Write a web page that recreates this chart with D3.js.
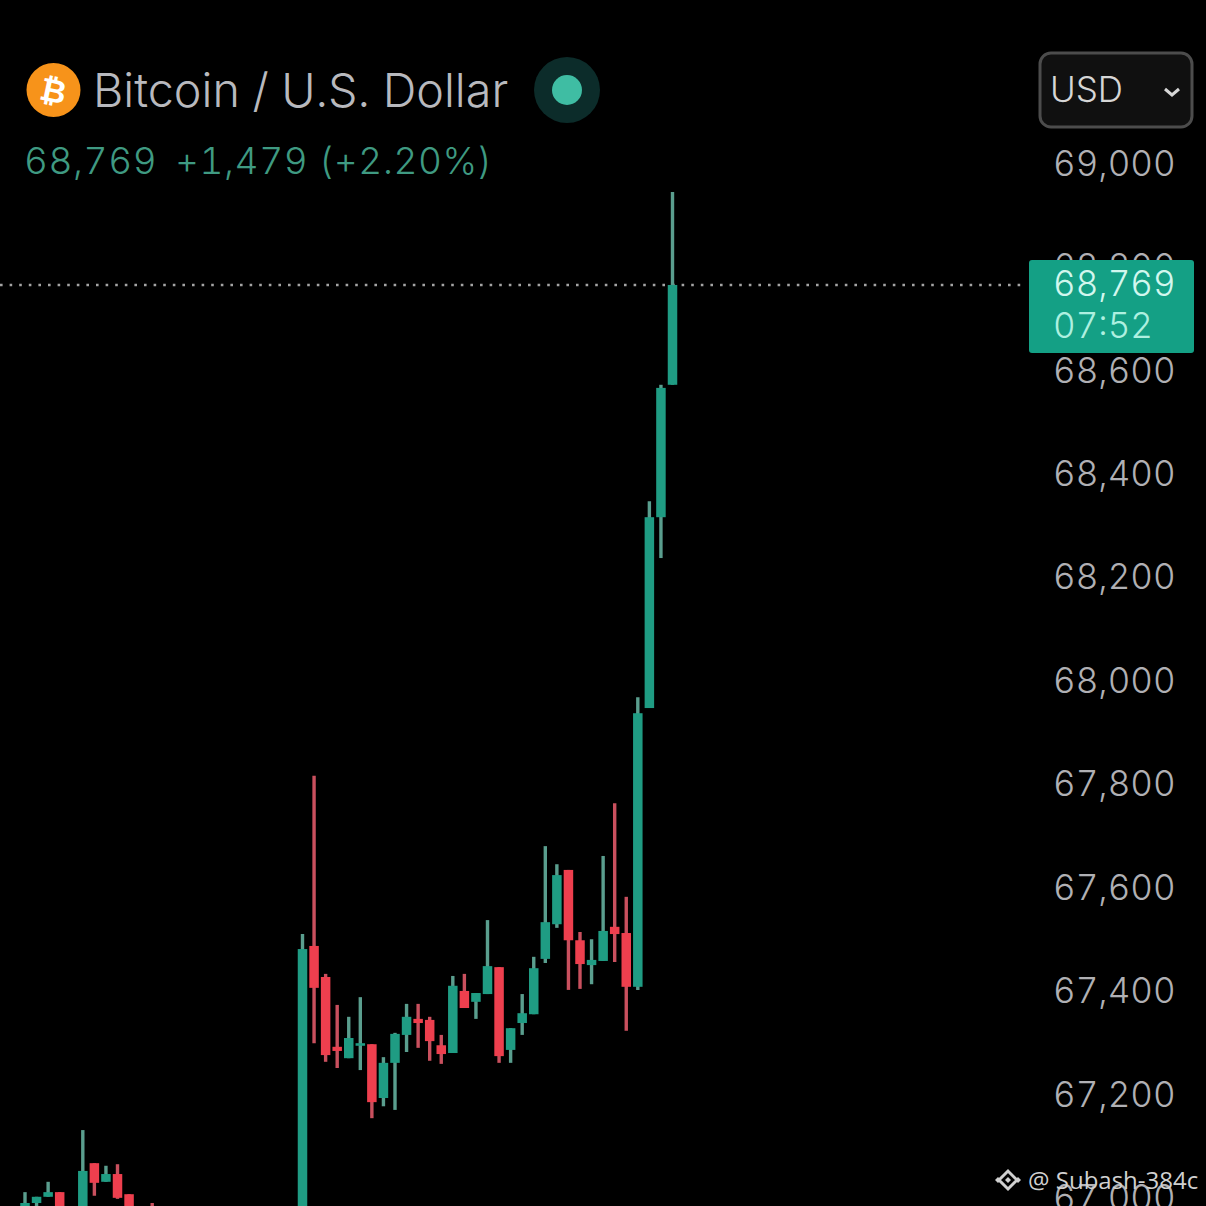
<!DOCTYPE html>
<html>
<head>
<meta charset="utf-8">
<title>Bitcoin / U.S. Dollar</title>
<script src="https://cdn.jsdelivr.net/npm/d3@7"></script>
<style>
  html, body { margin: 0; padding: 0; background: #000; }
  svg { display: block; }
  text { font-family: Inter, Roboto, "Liberation Sans", sans-serif; font-variant-numeric: tabular-nums; font-feature-settings: "tnum" 1; }
</style>
</head>
<body>
<div id="chart"></div>
<script>
const TITLE = 'Bitcoin / U.S. Dollar'
const LAST_PRICE = 68769
const CHANGE_TEXT = '+1,479 (+2.20%)'
const COUNTDOWN = '07:52'
const CURRENCY = 'USD'
const WATERMARK = '@ Subash-384c'
const PRICE_TICKS = [69000, 68800, 68600, 68400, 68200, 68000, 67800, 67600, 67400, 67200, 67000]

// bar position, 0 = first bar of the big move (gaps are bars hidden under the crop)
const bars   = [-24, -23, -22, -21, -19, -18, -17, -16, -15, -13,
  0, 1, 2, 3, 4, 5, 6, 7, 8, 9, 10, 11, 12, 13, 14, 15, 16,
  17, 18, 19, 20, 21, 22, 23, 24, 25, 26, 27, 28, 29, 30, 31, 32]
const opens  = [66975, 66994, 67006, 67015, 66960, 67071, 67035, 67050, 67011, 66970,
  66950, 67491, 67431, 67296, 67274, 67298, 67301, 67197, 67265, 67319, 67350, 67348, 67299, 67284, 67404, 67383, 67398,
  67450, 67290, 67342, 67359, 67466, 67533, 67638, 67502, 67454, 67462, 67528, 67516, 67412, 67951, 68320, 68576]
const highs  = [67015, 67006, 67035, 67015, 67135, 67071, 67066, 67069, 67011, 66994,
  67514, 67820, 67437, 67377, 67354, 67392, 67301, 67276, 67323, 67379, 67379, 67354, 67319, 67433, 67437, 67400, 67541,
  67450, 67332, 67398, 67470, 67684, 67649, 67638, 67518, 67504, 67665, 67767, 67586, 67972, 68351, 68576, 68949]
const lows   = [66960, 66970, 67006, 66930, 66940, 67008, 67035, 67002, 66940, 66930,
  66900, 67303, 67267, 67255, 67274, 67251, 67158, 67181, 67174, 67286, 67294, 67269, 67263, 67284, 67371, 67350, 67398,
  67265, 67265, 67319, 67359, 67458, 67526, 67406, 67408, 67417, 67462, 67460, 67327, 67406, 67951, 68241, 68576]
const closes = [66994, 67006, 67015, 66950, 67056, 67033, 67050, 67004, 66960, 66950,
  67485, 67410, 67280, 67288, 67313, 67303, 67189, 67265, 67321, 67354, 67342, 67307, 67282, 67414, 67371, 67400, 67452,
  67278, 67332, 67361, 67448, 67537, 67628, 67502, 67456, 67464, 67520, 67514, 67412, 67941, 68320, 68570, 68769]

const W = 1206, H = 1206
const UP = '#1f9c83', DOWN = '#ee3f4e', UP_WICK = '#5a9e8e', DOWN_WICK = '#c9505e'
const BODY_W = 9.5, WICK_W = 3.4

const x = d3.scaleLinear().domain([0, 32]).range([302.5, 672.5])
const y = d3.scaleLinear().domain([69000, 67000]).range([165.5, 1199.9])
const fmt = d3.format(',')

const svg = d3.select('#chart').append('svg')
  .attr('width', W).attr('height', H)
  .style('background', '#000')

// price line goes under the candles
svg.append('line')
  .attr('x1', 0).attr('x2', 1022)
  .attr('y1', y(LAST_PRICE)).attr('y2', y(LAST_PRICE))
  .attr('stroke', '#a4a4a4').attr('stroke-width', 2.4)
  .attr('stroke-dasharray', '2.6,7')

// right price axis
const axis = d3.axisRight(y).tickValues(PRICE_TICKS).tickSize(0).tickPadding(0).tickFormat(fmt)
const axisG = svg.append('g')
  .attr('transform', 'translate(1053,0)')
  .call(axis)
axisG.select('.domain').remove()
axisG.selectAll('text')
  .attr('dy', '0.32em')
  .attr('y', -1.5)
  .attr('fill', '#b0b0b4')
  .style('font-family', 'Inter, Roboto, sans-serif')
  .style('font-size', '35px')
  .style('font-weight', 300)
  .style('letter-spacing', '0px')

// candles
const candles = svg.append('g').selectAll('g')
  .data(bars.map((b, i) => ({b, o: opens[i], h: highs[i], l: lows[i], c: closes[i]})))
  .enter().append('g')

candles.append('line')
  .attr('x1', d => x(d.b)).attr('x2', d => x(d.b))
  .attr('y1', d => y(d.h)).attr('y2', d => y(d.l))
  .attr('stroke', d => d.c >= d.o ? UP_WICK : DOWN_WICK)
  .attr('stroke-width', WICK_W)

candles.append('rect')
  .attr('x', d => x(d.b) - BODY_W / 2)
  .attr('width', BODY_W)
  .attr('y', d => y(Math.max(d.o, d.c)))
  .attr('height', d => Math.max(2, Math.abs(y(d.o) - y(d.c))))
  .attr('fill', d => d.c >= d.o ? UP : DOWN)

// header
const head = svg.append('g')
head.append('circle').attr('cx', 53.5).attr('cy', 90).attr('r', 27).attr('fill', '#f7931a')
head.append('text')
  .attr('x', 53.5).attr('y', 91)
  .attr('text-anchor', 'middle').attr('dominant-baseline', 'central')
  .attr('transform', 'rotate(12 53.5 90)')
  .attr('fill', '#fff')
  .style('font-family', '"DejaVu Sans", sans-serif')
  .style('font-size', '32px').style('font-weight', 700)
  .text('\u20bf')
head.append('text')
  .attr('x', 93).attr('y', 107)
  .attr('fill', '#b8b9be')
  .style('font-size', '46.7px').style('font-weight', 300)
  .text(TITLE)
head.append('circle').attr('cx', 567).attr('cy', 90).attr('r', 33).attr('fill', '#0c2c2a')
head.append('circle').attr('cx', 567).attr('cy', 90).attr('r', 15).attr('fill', '#3fbda3')

head.append('text')
  .attr('x', 24).attr('y', 173.5)
  .attr('fill', '#3f9a82')
  .style('font-size', '37px').style('font-weight', 300)
  .style('letter-spacing', '0.6px')
  .text(fmt(LAST_PRICE))
head.append('text')
  .attr('x', 175).attr('y', 173.5)
  .attr('fill', '#3f9a82')
  .style('font-size', '37px').style('font-weight', 300)
  .style('letter-spacing', '0.6px')
  .text(CHANGE_TEXT)

// currency picker
const picker = svg.append('g')
picker.append('rect')
  .attr('x', 1040).attr('y', 53).attr('width', 152).attr('height', 74).attr('rx', 11)
  .attr('fill', '#101010').attr('stroke', '#4c4c4c').attr('stroke-width', 3)
picker.append('text')
  .attr('x', 1050).attr('y', 102)
  .attr('fill', '#d6d6d6')
  .style('font-size', '35px').style('font-weight', 300)
  .text(CURRENCY)
picker.append('path')
  .attr('d', d3.line()([[1165, 89], [1172, 95], [1179, 89]]))
  .attr('fill', 'none').attr('stroke', '#d6d6d6').attr('stroke-width', 3)

// last price tag, sits on top of the 68,800 label
const tag = svg.append('g')
tag.append('rect')
  .attr('x', 1029).attr('y', 260).attr('width', 165).attr('height', 93).attr('rx', 3)
  .attr('fill', '#14a085')
tag.append('text')
  .attr('x', 1053).attr('y', 296)
  .attr('fill', '#d2f7ee')
  .style('font-size', '35px').style('font-weight', 300)
  .text(fmt(LAST_PRICE))
tag.append('text')
  .attr('x', 1053).attr('y', 337.5)
  .attr('fill', '#aef0e0')
  .style('font-size', '35px').style('font-weight', 300)
  .text(COUNTDOWN)

// watermark
const mark = svg.append('g').attr('fill', '#d0d0d0')
const diamond = (cx, cy, r) => d3.line()([[cx - r, cy], [cx, cy - r], [cx + r, cy], [cx, cy + r]]) + 'Z'
;[[998, 1180, 3], [1018, 1180, 3], [1008, 1180, 3]].forEach(p => {
  mark.append('path').attr('d', diamond(p[0], p[1], p[2]))
})
mark.append('path')
  .attr('d', diamond(1008, 1180, 9))
  .attr('fill', 'none').attr('stroke', '#d0d0d0').attr('stroke-width', 3)
mark.append('text')
  .attr('x', 1028).attr('y', 1189)
  .style('font-family', '"Open Sans", sans-serif')
  .style('font-size', '24px')
  .text(WATERMARK)
</script>
</body>
</html>
